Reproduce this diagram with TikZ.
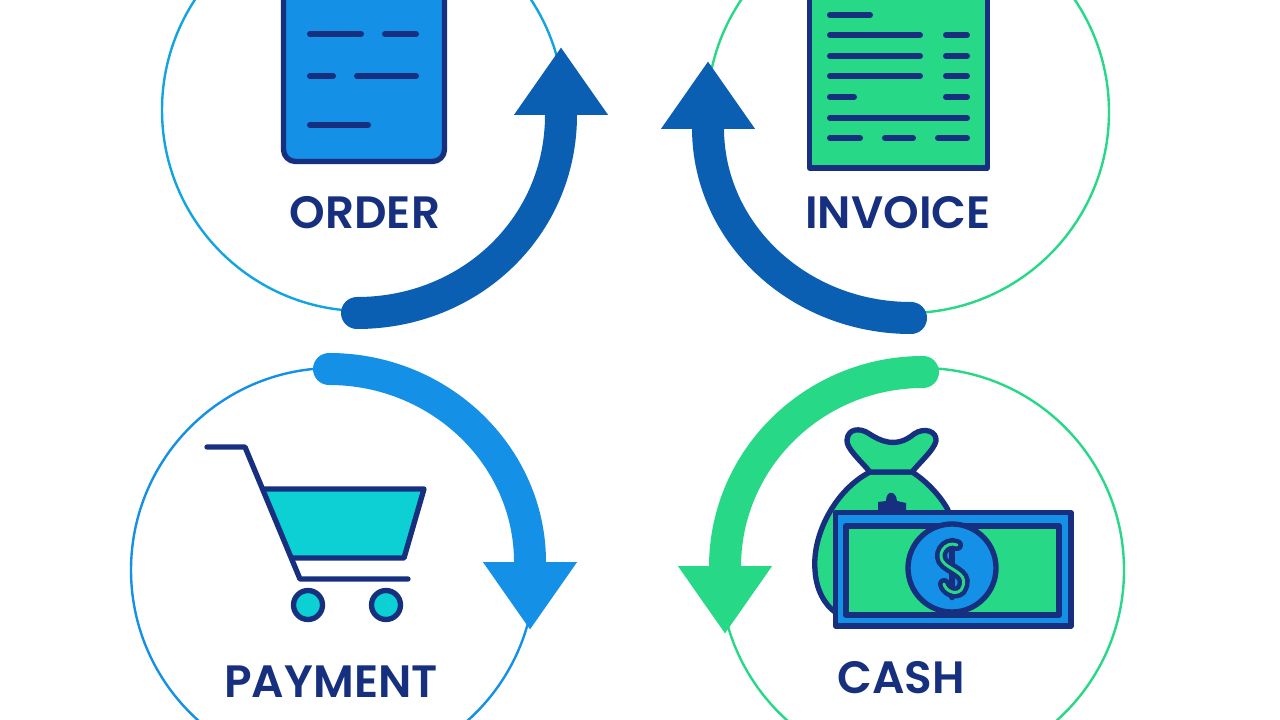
\documentclass[tikz,border=0pt]{standalone}
\usepackage{fontspec}
\setmainfont{Poppins SemiBold}
\usetikzlibrary{arrows.meta}
\definecolor{navy}{HTML}{16307F}
\definecolor{darkblue}{HTML}{0B5FB3}
\definecolor{midblue}{HTML}{1490E6}
\definecolor{leaf}{HTML}{27D886}
\definecolor{teal}{HTML}{0CD0D4}
\tikzset{
  ring/.style={line width=1.8pt},
  loop/.style={line width=24pt, line cap=round, -{Triangle[width=67pt,length=51pt]}},
  icon/.style={draw=navy, line width=4pt, line join=round},
  textline/.style={draw=navy, line width=4.5pt, line cap=round},
  caption/.style={text=navy, font=\fontsize{34}{34}\selectfont, inner sep=0pt}
}
\begin{document}
\begin{tikzpicture}[x=0.75pt, y=-0.75pt]
    \useasboundingbox (0,0) rectangle (1280,720);
    \begin{scope}
        \clip (0,0) rectangle (1280,720);
        \draw[ring, draw=midblue!70!teal] (363,110) circle [radius=201];
        \draw[ring, draw=leaf] (908,112) circle [radius=201];
        \draw[ring, draw=midblue] (333,570) circle [radius=202];
        \draw[ring, draw=leaf] (922,570) circle [radius=202];

        \draw[icon, fill=midblue, rounded corners=9pt] (283.5,-20) -- (283.5,161.5) -- (444.5,161.5) -- (444.5,-20);
        \draw[icon, fill=leaf] (809.5,-20) -- (809.5,168) -- (987.5,168) -- (987.5,-20);
    \end{scope}

    \coordinate (orderA1) at (310,34);
    \coordinate (orderA2) at (361,34);
    \coordinate (orderB1) at (385,34);
    \coordinate (orderB2) at (416,34);
    \coordinate (orderC1) at (310,76);
    \coordinate (orderC2) at (333,76);
    \coordinate (orderD1) at (357,76);
    \coordinate (orderD2) at (416,76);
    \coordinate (orderE1) at (310,125);
    \coordinate (orderE2) at (368,125);
    \draw[textline] (orderA1) -- (orderA2);
    \draw[textline] (orderB1) -- (orderB2);
    \draw[textline] (orderC1) -- (orderC2);
    \draw[textline] (orderD1) -- (orderD2);
    \draw[textline] (orderE1) -- (orderE2);

    \foreach \y/\xa/\xb in {15/830/870, 35/830/920, 56/830/920, 76/830/920, 97/830/854,
                            118/830/967, 138/830/860, 35/946/967, 56/946/967, 76/946/967,
                            97/946/967, 138/885/913, 138/938/967} {
        \draw[textline] (\xa,\y) -- (\xb,\y);
    }

    \fill[teal] (264,489) -- (424,489) -- (404,558) -- (292,558) -- cycle;
    \draw[icon, line cap=round] (207,447) -- (245,447) -- (300,579) -- (408,579);
    \draw[icon] (264,489) -- (424,489) -- (404,558) -- (292,558);
    \node (wheelA) [circle, icon, fill=teal, minimum size=21.75pt, inner sep=0pt] at (308,605) {};
    \node (wheelB) [circle, icon, fill=teal, minimum size=21.75pt, inner sep=0pt] at (386,605) {};

    \draw[icon, fill=leaf] (870,472) .. controls (835,490) and (812,535) .. (815,570)
        .. controls (816,590) and (825,605) .. (835,612) -- (948,612) -- (948,510)
        .. controls (940,495) and (925,480) .. (912,472) -- cycle;
    \draw[icon, fill=leaf] (870,472) .. controls (860,460) and (846,448) .. (847,440)
        .. controls (848,428) and (860,428) .. (868,433) .. controls (880,441) and (896,449) .. (914,434)
        .. controls (924,427) and (937,431) .. (936,441) .. controls (934,450) and (920,462) .. (912,472) -- cycle;
    \fill[navy] (878,510) -- (878,502) -- (886,501) .. controls (886,490) and (896,490) .. (897,501)
        -- (906,503) -- (906,510) -- cycle;

    \draw[icon, fill=midblue] (835.5,512.5) rectangle (1071,626);
    \draw[icon, line width=4.5pt, fill=leaf] (846,526) rectangle (1059,615);
    \node (coin) [circle, icon, fill=midblue, minimum size=66pt, inner sep=0pt] at (952,568) {};
    \draw[navy, line width=9pt, line cap=round] (957,545) .. controls (945,540) and (935,556) .. (945,564)
        .. controls (955,572) and (970,575) .. (961,590) .. controls (955,596) and (945,590) .. (944,584);
    \draw[navy, line width=5pt, line cap=round] (952,541) -- (952,597);
    \draw[leaf, line width=2.2pt, line cap=round] (957,545) .. controls (945,540) and (935,556) .. (945,564)
        .. controls (955,572) and (970,575) .. (961,590) .. controls (955,596) and (945,590) .. (944,584);

    \coordinate (orderTail) at (357,313);
    \coordinate (orderBend) at (561,115);
    \coordinate (orderTip) at (561,47);
    \coordinate (invoiceTail) at (911,318);
    \coordinate (invoiceBend) at (708,128);
    \coordinate (invoiceTip) at (708,61);
    \coordinate (paymentTail) at (329,369);
    \coordinate (paymentBend) at (530,562);
    \coordinate (paymentTip) at (530,630);
    \coordinate (cashTail) at (923,372);
    \coordinate (cashBend) at (725,567);
    \coordinate (cashTip) at (725,634);
    \draw[loop, draw=darkblue] (orderTail) .. controls (470,313) and (561,227) .. (orderBend) -- (orderTip);
    \draw[loop, draw=darkblue] (invoiceTail) .. controls (799,318) and (708,233) .. (invoiceBend) -- (invoiceTip);
    \draw[loop, draw=midblue] (paymentTail) .. controls (440,369) and (530,456) .. (paymentBend) -- (paymentTip);
    \draw[loop, draw=leaf] (cashTail) .. controls (814,372) and (725,459) .. (cashBend) -- (cashTip);

    \node[caption] (order) at (365,213) {ORDER};
    \node[caption] (invoice) at (898,213) {INVOICE};
    \node[caption] (payment) at (331,682) {PAYMENT};
    \node[caption] (cash) at (901,678) {CASH};
\end{tikzpicture}
\end{document}
